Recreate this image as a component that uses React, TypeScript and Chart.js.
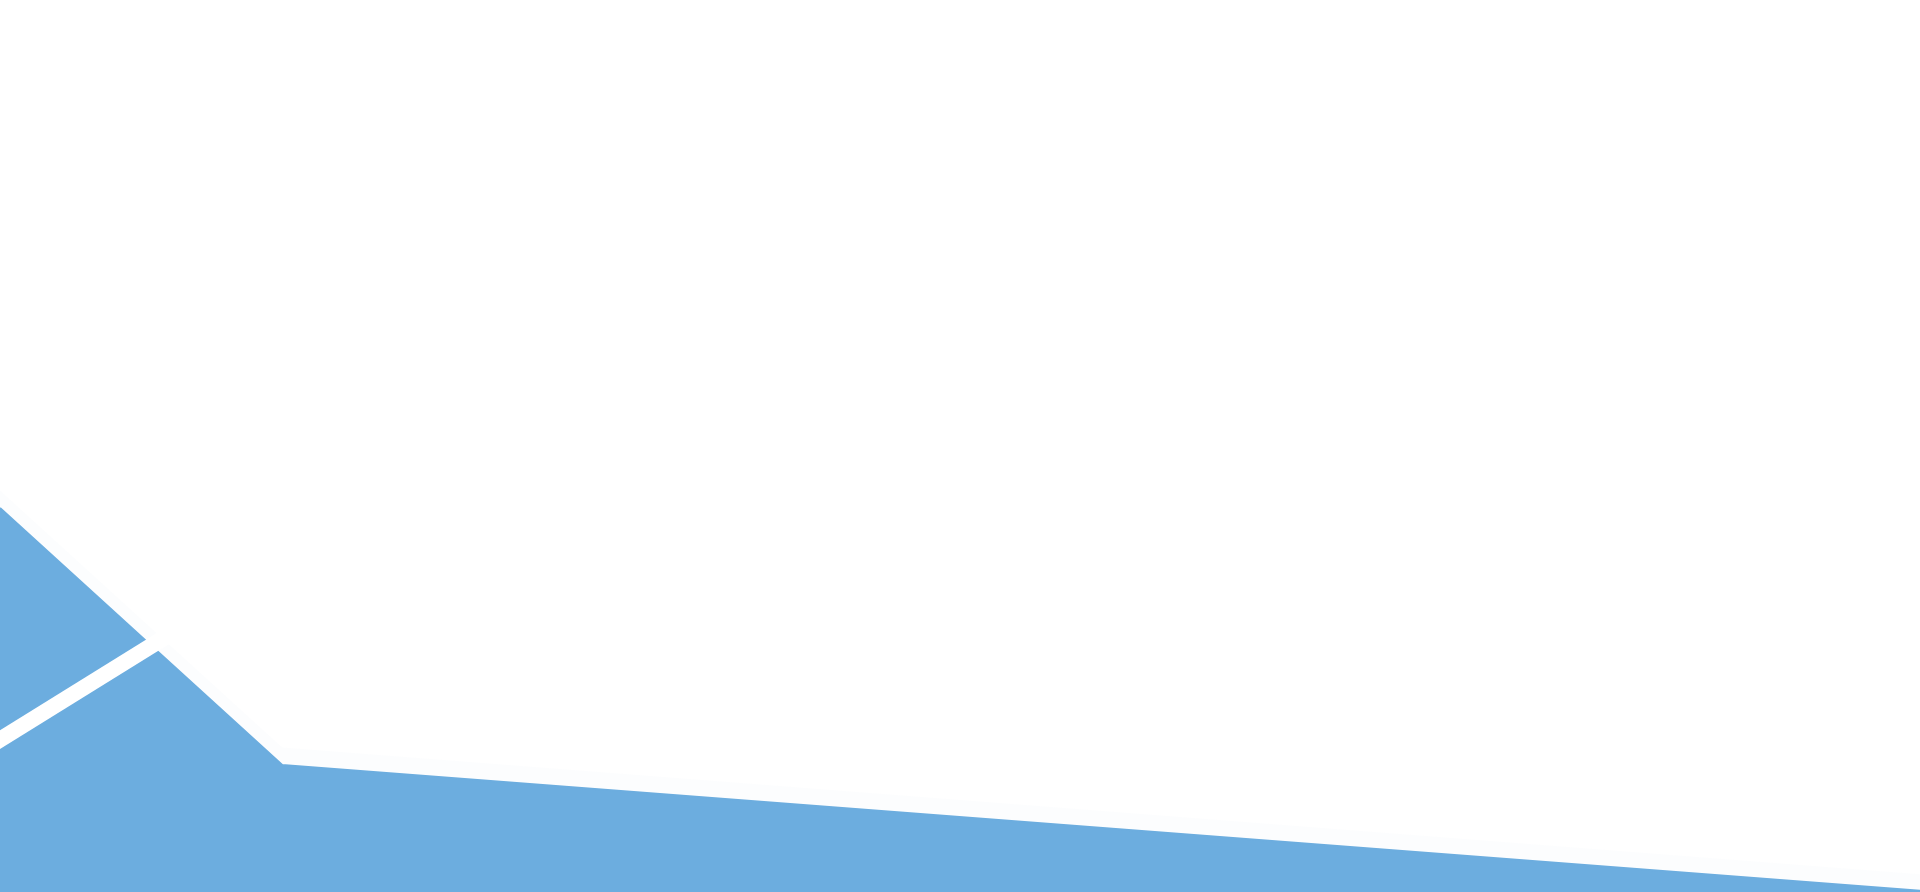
import React, { useEffect, useRef } from "react";
import { Chart, registerables } from "chart.js";

Chart.register(...registerables);

// x positions (percent of width) and values (percent of height)
const xPoints = [0, 14.7, 100];
const areaValues = [43.05, 14.24, 0.15];
const haloValues = [45.0, 16.2, 2.0];
const stripeX = [-5, 60];
const stripeValues = [10.4, 97.2];

const BLUE = "#6caddf";

export default function App() {
  const ref = useRef<HTMLCanvasElement | null>(null);

  useEffect(() => {
    document.body.style.margin = "0";
    document.body.style.overflow = "hidden";
    const canvas = ref.current;
    if (!canvas) return;
    const chart = new Chart(canvas, {
      type: "line",
      data: {
        datasets: [
          {
            label: "stripe",
            data: stripeX.map((x, i) => ({ x, y: stripeValues[i] })),
            borderColor: "#ffffff",
            borderWidth: 16,
            pointRadius: 0,
            fill: false,
            order: 0,
            tension: 0,
          },
          {
            label: "area",
            data: xPoints.map((x, i) => ({ x, y: areaValues[i] })),
            borderColor: BLUE,
            backgroundColor: BLUE,
            borderWidth: 2,
            borderJoinStyle: "round",
            pointRadius: 0,
            fill: "start",
            order: 1,
            tension: 0,
          },
          {
            label: "halo",
            data: xPoints.map((x, i) => ({ x, y: haloValues[i] })),
            borderColor: "rgba(0,0,0,0)",
            backgroundColor: "rgba(108,173,223,0.025)",
            borderWidth: 0,
            pointRadius: 0,
            fill: "start",
            order: 2,
            tension: 0,
          },
        ],
      },
      options: {
        animation: false,
        responsive: true,
        maintainAspectRatio: false,
        layout: { padding: 0 },
        plugins: {
          legend: { display: false },
          tooltip: { enabled: false },
          title: { display: false },
        },
        scales: {
          x: { type: "linear", min: 0, max: 100, display: false },
          y: { type: "linear", min: 0, max: 100, display: false },
        },
      },
    });
    return () => chart.destroy();
  }, []);

  return (
    <div
      style={{
        position: "fixed",
        left: 0,
        top: 0,
        width: "100vw",
        height: "100vh",
        background: "#ffffff",
      }}
    >
      <canvas ref={ref} />
    </div>
  );
}
